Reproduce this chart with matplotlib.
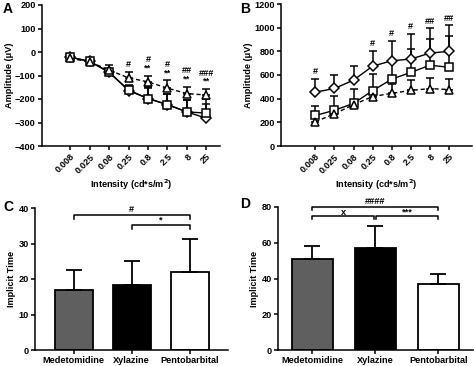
import numpy as np
import matplotlib
matplotlib.use("Agg")
import matplotlib.pyplot as plt

plt.rcParams['font.family'] = ['Liberation Sans', 'DejaVu Sans']
plt.rcParams['font.weight'] = 'bold'
plt.rcParams['axes.labelweight'] = 'bold'

# ---- data ----
intensity = ['0.008', '0.025', '0.08', '0.25', '0.8', '2.5', '8', '25']

a_diamond = [-22, -40, -86, -164, -198, -224, -255, -282]
a_diamond_sd = [5, 5, 10, 20, 45, 44, 50, 62]
a_square = [-22, -40, -86, -162, -198, -224, -255, -260]
a_square_sd = [5, 5, 10, 20, 48, 44, 50, 58]
a_tri = [-27, -42, -77, -110, -127, -154, -177, -183]
a_tri_sd = [5, 5, 20, 27, 27, 33, 30, 27]
a_hash = ['', '', '', '#', '#', '#', '##', '###']
a_star = ['', '', '', '', '**', '**', '**', '**']

b_diamond = [455, 486, 557, 675, 720, 735, 785, 800]
b_diamond_sd = [110, 115, 115, 130, 168, 215, 208, 220]
b_square = [258, 302, 360, 468, 565, 622, 683, 665]
b_square_sd = [76, 120, 122, 140, 150, 200, 222, 264]
b_tri = [205, 272, 350, 418, 445, 470, 485, 477]
b_tri_sd = [30, 40, 40, 60, 80, 88, 92, 86]
b_hash = ['#', '', '', '#', '#', '#', '##', '##']

groups = ['Medetomidine', 'Xylazine', 'Pentobarbital']
bar_colors = ['#5f5f5f', 'black', 'white']
c_mean = [16.8, 18.2, 22.0]
c_sd = [5.6, 6.9, 9.3]
d_mean = [51.0, 57.2, 36.8]
d_sd = [7.2, 12.2, 5.6]

W, H = 474, 366
fig = plt.figure(figsize=(W / 100, H / 100), dpi=100)

def box(l, r, t, b):
    return [l / W, 1 - b / H, (r - l) / W, (b - t) / H]

axA = fig.add_axes(box(42, 220, 5, 146))
axB = fig.add_axes(box(281, 472, 4, 146))
axC = fig.add_axes(box(35, 228, 208, 350))
axD = fig.add_axes(box(278, 473, 207, 350))

FS = 6.6

def style(ax):
    for s in ['top', 'right']:
        ax.spines[s].set_visible(False)
    for s in ['left', 'bottom']:
        ax.spines[s].set_linewidth(1.1)
    ax.tick_params(width=1.1, length=3, labelsize=FS, pad=1.5)

def line_panel(ax, data):
    x = np.arange(len(intensity))
    for y, sd, mk, ms, ls in data:
        y = np.array(y)
        ax.errorbar(x, y, yerr=[np.zeros(len(y)), sd], fmt='none', ecolor='black',
                    elinewidth=1.1, capsize=2.8, capthick=1.1, zorder=2)
        ax.plot(x, y, color='black', lw=1.0, ls=ls, zorder=3,
                dashes=(3, 2) if ls == '--' else (None, None))
        ax.plot(x, y, ls='none', marker=mk, ms=ms, mfc='white', mec='black', mew=1.1, zorder=4)
    ax.set_xticks(x)
    ax.set_xticklabels(intensity, rotation=45, ha='right', rotation_mode='anchor')
    ax.set_xlabel('Intensity (cd*s/m$\\mathbf{^2}$)', fontsize=FS, labelpad=2)
    ax.set_ylabel('Amplitude (\u03bcV)', fontsize=FS, labelpad=1)
    style(ax)

# A
line_panel(axA, [(a_diamond, a_diamond_sd, 'D', 5, '-'),
                 (a_square, a_square_sd, 's', 5.5, '-'),
                 (a_tri, a_tri_sd, '^', 6, '--')])
axA.set_xlim(-1.45, 7.7)
axA.set_ylim(-400, 200)
axA.set_yticks(np.arange(-400, 201, 100))
for i in range(len(intensity)):
    top = a_tri[i] + a_tri_sd[i]
    off = 2
    if a_star[i]:
        axA.annotate(a_star[i], (i, top), xytext=(0, off), textcoords='offset points',
                     ha='center', va='bottom', fontsize=FS)
        off += 6
    if a_hash[i]:
        axA.annotate(a_hash[i], (i, top), xytext=(0, off), textcoords='offset points',
                     ha='center', va='bottom', fontsize=FS)

# B
line_panel(axB, [(b_diamond, b_diamond_sd, 'D', 5, '-'),
                 (b_square, b_square_sd, 's', 6, '-'),
                 (b_tri, b_tri_sd, '^', 6, '--')])
axB.set_xlim(-1.8, 8.2)
axB.set_ylim(0, 1200)
axB.set_yticks(np.arange(0, 1201, 200))
for i in range(len(intensity)):
    if b_hash[i]:
        axB.annotate(b_hash[i], (i, b_diamond[i] + b_diamond_sd[i]), xytext=(0, 2),
                     textcoords='offset points', ha='center', va='bottom', fontsize=FS)

# C, D
def bar_panel(ax, mean, sd):
    x = np.arange(len(groups))
    ax.bar(x, mean, width=0.65, color=bar_colors, edgecolor='black', linewidth=1.3, zorder=2)
    ax.errorbar(x, mean, yerr=[np.zeros(len(mean)), sd], fmt='none', ecolor='black',
                elinewidth=1.3, capsize=6, capthick=1.3, zorder=3)
    ax.set_xticks(x)
    ax.set_xticklabels(groups)
    ax.set_ylabel('Implicit Time', fontsize=FS, labelpad=2)
    style(ax)
    ax.tick_params(axis='x', length=3)

def bracket(ax, x0, x1, y, h, text, dy, mid_tick=None):
    xs = [x0, x0, x1, x1]
    ys = [y - h, y, y, y - h]
    ax.plot(xs, ys, color='black', lw=1.1, clip_on=False)
    if mid_tick is not None:
        ax.plot([mid_tick, mid_tick], [y, y - h], color='black', lw=1.1, clip_on=False)
    ax.text((x0 + x1) / 2, y + dy, text, ha='center', va='bottom', fontsize=FS, clip_on=False)

bar_panel(axC, c_mean, c_sd)
axC.set_xlim(-0.67, 2.66)
axC.set_ylim(0, 40)
axC.set_yticks(np.arange(0, 41, 10))
bracket(axC, 0, 2, 38.1, 1.2, '#', 0.2)
bracket(axC, 1, 2, 35.3, 1.2, '*', 0.0)

bar_panel(axD, d_mean, d_sd)
axD.set_xlim(-0.54, 2.55)
axD.set_ylim(0, 80)
axD.set_yticks(np.arange(0, 81, 20))
bracket(axD, 0, 2, 80, 1.8, '####', 0.3)
bracket(axD, 0, 0.98, 74.9, 1.8, 'x', -0.3)
bracket(axD, 1.02, 2, 74.9, 1.8, '***', -0.3)

# panel letters
for lab, px, py in [('A', 3, 2), ('B', 240, 2), ('C', 3, 200), ('D', 240, 197)]:
    fig.text(px / W, 1 - py / H, lab, fontsize=10, fontweight='bold', ha='left', va='top')

fig.savefig('out.png', dpi=100)
